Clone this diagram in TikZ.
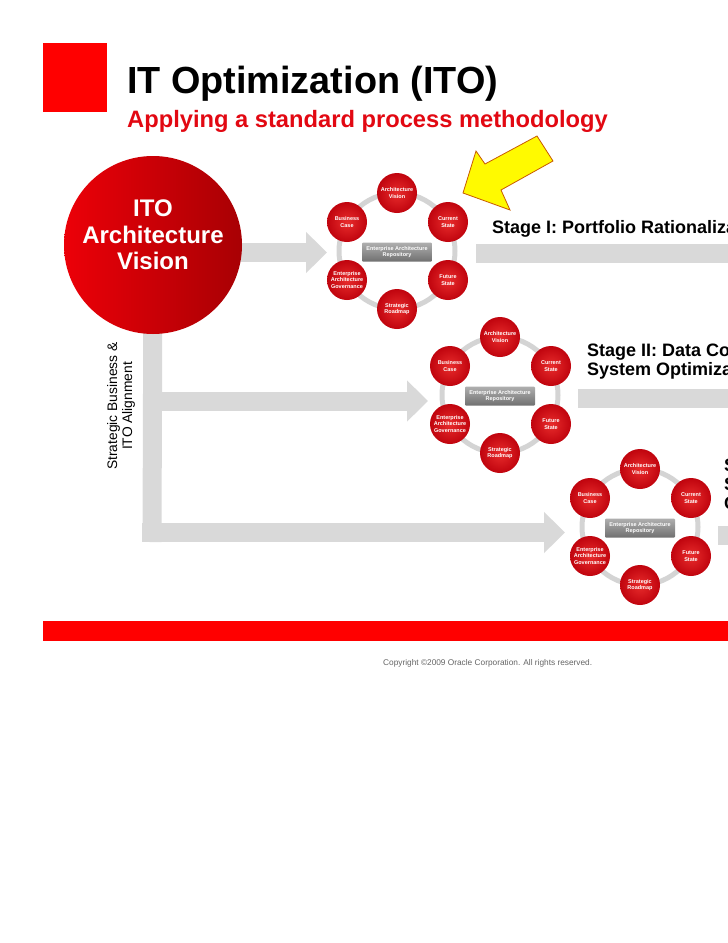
\documentclass[tikz,border=0pt]{standalone}
\usepackage{fontspec}
\setmainfont{Liberation Sans}
\usetikzlibrary{arrows.meta,backgrounds}
\definecolor{oraRed}{RGB}{255,0,0}
\definecolor{subRed}{RGB}{226,8,18}
\definecolor{barGray}{RGB}{217,217,217}
\definecolor{ringGray}{RGB}{212,212,212}
\definecolor{bigL}{RGB}{236,0,8}
\definecolor{bigR}{RGB}{168,0,4}
\definecolor{smIn}{RGB}{232,44,44}
\definecolor{smOut}{RGB}{192,4,14}
\definecolor{boxTop}{RGB}{175,175,175}
\definecolor{boxBot}{RGB}{112,112,112}
\definecolor{copyGray}{RGB}{100,100,100}
\definecolor{arrYel}{RGB}{255,250,0}
\definecolor{arrEdge}{RGB}{200,90,0}
\begin{document}
\begin{tikzpicture}[x=1pt,y=-1pt,
  bigbar/.style={draw=barGray, line width=19pt},
  bigarrow/.style={bigbar, -{Triangle[length=21pt 0 0,width=40pt 0 0]}},
  ring/.style={draw=ringGray, line width=5pt},
  eanode/.style={circle, minimum size=40pt, inner sep=0pt, shade, inner color=smIn, outer color=smOut,
    text=white, font=\fontsize{5.5}{6.3}\selectfont\bfseries, align=center},
  eabox/.style={rectangle, minimum width=70pt, minimum height=19pt, inner sep=1pt, rounded corners=1pt,
    top color=boxTop, bottom color=boxBot, text=white, font=\fontsize{5.5}{6.3}\selectfont\bfseries, align=center},
  stagefont/.style={font=\fontsize{18}{19}\selectfont\bfseries, inner sep=0pt, align=left},
  eacycle/.pic={
    \draw[ring] (0,0) circle[radius=58pt];
    \node[eanode] (-vis) at (0,-58) {Architecture\\Vision};
    \node[eanode] (-cur) at (51,-29) {Current\\State};
    \node[eanode] (-fut) at (51,29) {Future\\State};
    \node[eanode] (-road) at (0,58) {Strategic\\Roadmap};
    \node[eanode] (-gov) at (-50,29) {Enterprise\\Architecture\\Governance};
    \node[eanode] (-bc) at (-50,-29) {Business\\Case};
    \node[eabox] (-rep) at (0,1) {Enterprise Architecture\\Repository};
  }]
\useasboundingbox (0,0) rectangle (728,943);
\clip (0,0) rectangle (728,943);

% header
\node[fill=oraRed, minimum width=64pt, minimum height=69pt, inner sep=0pt, anchor=north west] (sq) at (43,43) {};
\node[anchor=base west, inner sep=0pt, font=\fontsize{37.8}{40}\selectfont\bfseries] (title) at (127,93) {IT Optimization (ITO)};
\node[anchor=base west, inner sep=0pt, text=subRed, font=\fontsize{23.7}{26}\selectfont\bfseries] (subtitle) at (127,127) {Applying a standard process methodology};

% coordinates for the big gray connectors
\coordinate (t1) at (327,252.5);
\coordinate (t2) at (428,401);
\coordinate (t3) at (565,532.5);
\coordinate (trunk) at (152,542);
\coordinate (b2) at (152,401);
\coordinate (b3) at (142,532.5);
\coordinate (r1a) at (476,253);
\coordinate (r1b) at (728,253);
\coordinate (r2a) at (578,398.5);
\coordinate (r2b) at (728,398.5);
\coordinate (r3a) at (718,535);
\coordinate (r3b) at (728,535);

% big vision circle
\node[circle, minimum size=178pt, inner sep=0pt, left color=bigL, right color=bigR] (vis) at (153,245) {};
\node[text=white, align=center, font=\fontsize{24}{26.5}\selectfont\bfseries] (vislabel) at (153,235) {ITO\\Architecture\\Vision};

\begin{pgfonlayer}{background}
  \draw[bigbar] (vis.center) -- (trunk);
  \draw[bigarrow] (vis.center |- t1) -- (t1);
  \draw[bigarrow] (b2) -- (t2);
  \draw[bigarrow] (b3) -- (t3);
  \draw[bigbar] (r1a) -- (r1b);
  \draw[bigbar] (r2a) -- (r2b);
  \draw[bigbar] (r3a) -- (r3b);
\end{pgfonlayer}

% cycles
\pic (c1) at (397,251) {eacycle};
\pic (c2) at (500,395) {eacycle};
\pic (c3) at (640,527) {eacycle};

% stage labels
\node[stagefont, anchor=base west] (s1) at (492,233) {Stage I: Portfolio Rationalization};
\node[stagefont, anchor=west] (s2) at (587,361) {Stage II: Data Consolidation \&\\System Optimization};
\node[stagefont, anchor=west] (s3) at (724,484) {Stage III:\\Shared Services\\Consolidation};

% side label
\node[rotate=90, align=center, font=\fontsize{13.8}{15}\selectfont] (side) at (121,406) {Strategic Business \&\\ITO Alignment};

% yellow pointer
\draw[fill=arrYel, draw=arrEdge, line width=0.8pt, line join=miter]
  (463,193) -- (476,151) -- (485,164) -- (537,136) -- (553,161) -- (501,190) -- (510,210) -- cycle;

% footer
\node[fill=oraRed, minimum width=685pt, minimum height=20pt, inner sep=0pt, anchor=north west] (band) at (43,621) {};
\node[anchor=base west, inner sep=0pt, text=copyGray, font=\fontsize{8.3}{10}\selectfont] (copy) at (383,665) {Copyright ©2009 Oracle Corporation. All rights reserved.};
\end{tikzpicture}
\end{document}
